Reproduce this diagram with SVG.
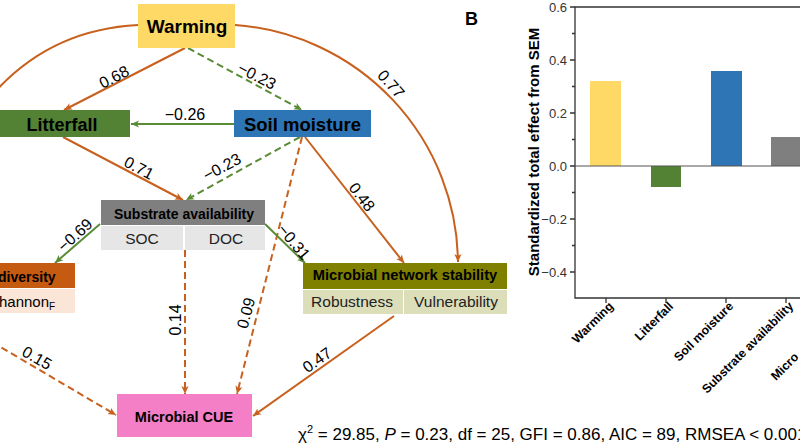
<svg xmlns="http://www.w3.org/2000/svg" width="800" height="445" viewBox="0 0 800 445">
<style>
text{font-family:"Liberation Sans",Arial,sans-serif;fill:#000}
.nb{font-weight:bold;text-anchor:middle}
.cell{font-size:15.5px;text-anchor:middle;fill:#222}
.el{font-size:16px;text-anchor:middle}
.or{fill:none;stroke:#C8601E;stroke-width:2}
.gr{fill:none;stroke:#5A8C37;stroke-width:2}
.dash{stroke-dasharray:7 4}
.ax{stroke:#333;stroke-width:1.3;fill:none}
.tk{font-size:13px;fill:#333;text-anchor:end}
.xl{font-size:12.3px;font-weight:bold;text-anchor:end}
</style>
<defs>
<marker id="ao" viewBox="0 0 10 10" refX="10" refY="5" markerWidth="8" markerHeight="8" markerUnits="userSpaceOnUse" orient="auto"><path d="M0,0.5 L10,5 L0,9.5 L2.5,5 z" fill="#C8601E"/></marker>
<marker id="ag" viewBox="0 0 10 10" refX="10" refY="5" markerWidth="8" markerHeight="8" markerUnits="userSpaceOnUse" orient="auto"><path d="M0,0.5 L10,5 L0,9.5 L2.5,5 z" fill="#5A8C37"/></marker>
</defs>
<rect width="800" height="445" fill="#fff"/>

<g id="connectors">
<path class="or" d="M138,25 Q40,30 -20,110"/>
<path class="or" d="M235,25 A240,240 0 0 1 458,262" marker-end="url(#ao)"/>
<path class="or" d="M185,48 L64,110" marker-end="url(#ao)"/>
<path class="gr dash" d="M188,48 L302,110" marker-end="url(#ag)"/>
<path class="gr" d="M234,124 L131,124" marker-end="url(#ag)"/>
<path class="or" d="M63,137 L183,200" marker-end="url(#ao)"/>
<path class="gr dash" d="M300,137 L186,200" marker-end="url(#ag)"/>
<path class="or" d="M305,137 L404,263" marker-end="url(#ao)"/>
<path class="or dash" d="M302,137 L237,394" marker-end="url(#ao)"/>
<path class="gr" d="M100,224 L55,263" marker-end="url(#ag)"/>
<path class="gr" d="M265,224 L305,263" marker-end="url(#ag)"/>
<path class="or dash" d="M185,250 L185,394" marker-end="url(#ao)"/>
<path class="or dash" d="M-8,342 L116,415" marker-end="url(#ao)"/>
<path class="or" d="M394,316 L253,416" marker-end="url(#ao)"/>
<g class="el">
<text class="el" transform="translate(114,77) rotate(-27)" y="5.5">0.68</text>
<text class="el" transform="translate(257,76) rotate(27)" y="5.5">−0.23</text>
<text class="el" transform="translate(185,114)" y="5.5">−0.26</text>
<text class="el" transform="translate(391,84) rotate(48)" y="5.5">0.77</text>
<text class="el" transform="translate(139,168) rotate(28)" y="5.5">0.71</text>
<text class="el" transform="translate(222,167) rotate(-28)" y="5.5">−0.23</text>
<text class="el" transform="translate(362,197) rotate(52)" y="5.5">0.48</text>
<text class="el" transform="translate(75,235) rotate(-42)" y="5.5">−0.69</text>
<text class="el" transform="translate(294,242) rotate(50)" y="5.5">−0.31</text>
<text class="el" transform="translate(175,320) rotate(-90)" y="5.5">0.14</text>
<text class="el" transform="translate(246,313) rotate(-75)" y="5.5">0.09</text>
<text class="el" transform="translate(37,358) rotate(30)" y="5.5">0.15</text>
<text class="el" transform="translate(317,360) rotate(-35)" y="5.5">0.47</text>
</g>
</g>

<g id="warming">
<rect x="138" y="4" width="97" height="44" fill="#FFD966"/>
<text class="nb" x="187" y="33" font-size="19">Warming</text>
</g>
<g id="litterfall">
<rect x="0" y="110" width="130" height="27" fill="#548235"/>
<text class="nb" x="62" y="131" font-size="18">Litterfall</text>
</g>
<g id="soil-moisture">
<rect x="234" y="110" width="137" height="27" fill="#2E75B6"/>
<text class="nb" x="302.5" y="131" font-size="18.5">Soil moisture</text>
</g>
<g id="substrate-availability">
<rect x="101" y="200" width="164" height="25" fill="#7F7F7F"/>
<rect x="101" y="226" width="82" height="24" fill="#E7E6E6"/>
<rect x="185" y="226" width="80" height="24" fill="#E7E6E6"/>
<text class="nb" x="184" y="219" font-size="14">Substrate availability</text>
<text class="cell" x="142" y="244">SOC</text>
<text class="cell" x="226" y="244">DOC</text>
</g>
<g id="diversity">
<rect x="0" y="263" width="75" height="25" fill="#C55A11"/>
<rect x="0" y="289" width="75" height="24" fill="#FBE5D6"/>
<text x="-2" y="282" font-size="14" font-weight="bold">diversity</text>
<text x="-1" y="307" font-size="15" fill="#222">hannon<tspan font-size="10" dy="3">F</tspan></text>
</g>
<g id="network-stability">
<rect x="303" y="263" width="204" height="26" fill="#7F7F00"/>
<rect x="303" y="290" width="100" height="24" fill="#DCDDB9"/>
<rect x="404" y="290" width="103" height="24" fill="#DCDDB9"/>
<text class="nb" x="405" y="280" font-size="14.7">Microbial network stability</text>
<text class="cell" x="352" y="307">Robustness</text>
<text class="cell" x="456" y="307">Vulnerability</text>
</g>
<g id="microbial-cue">
<rect x="117" y="394" width="135" height="43" fill="#F47FC6"/>
<text class="nb" x="184" y="422" font-size="14.5">Microbial CUE</text>
</g>

<text x="298" y="440" font-size="17" fill="#111">χ<tspan font-size="11" dy="-7">2</tspan><tspan dy="7"> = 29.85, </tspan><tspan font-style="italic">P</tspan> = 0.23, df = 25, GFI = 0.86, AIC = 89, RMSEA &lt; 0.001</text>

<g id="panel-b">
<text x="465" y="25" font-size="18" font-weight="bold">B</text>
<rect x="590" y="81" width="31" height="85" fill="#FFD966"/>
<rect x="651" y="166" width="30" height="21" fill="#548235"/>
<rect x="711" y="71" width="31" height="95" fill="#2E75B6"/>
<rect x="771" y="137" width="31" height="29" fill="#7F7F7F"/>
<path class="ax" d="M805,7 H575 V298 H805"/>
<path d="M575,166 H805" stroke="#555" stroke-width="1.2"/>
<path class="ax" d="M570,7 H575 M570,60 H575 M570,113 H575 M570,166 H575 M570,219 H575 M570,272 H575 M572,33.5 H575 M572,86.5 H575 M572,139.5 H575 M572,192.5 H575 M572,245.5 H575 M606,298 V303 M666,298 V303 M726,298 V303 M786,298 V303"/>
<text class="tk" x="567" y="12">0.6</text>
<text class="tk" x="567" y="65">0.4</text>
<text class="tk" x="567" y="118">0.2</text>
<text class="tk" x="567" y="171">0.0</text>
<text class="tk" x="567" y="224">−0.2</text>
<text class="tk" x="567" y="277">−0.4</text>
<text transform="translate(539,152) rotate(-90)" font-size="15" font-weight="bold" text-anchor="middle">Standardized total effect from SEM</text>
<text class="xl" transform="translate(614,307) rotate(-45)">Warming</text>
<text class="xl" transform="translate(674,307) rotate(-45)">Litterfall</text>
<text class="xl" transform="translate(734,307) rotate(-45)">Soil moisture</text>
<text class="xl" transform="translate(794,307) rotate(-45)">Substrate availability</text>
<text transform="translate(776,381) rotate(-45)" font-size="12.3" font-weight="bold">Micro</text>
</g>
</svg>
